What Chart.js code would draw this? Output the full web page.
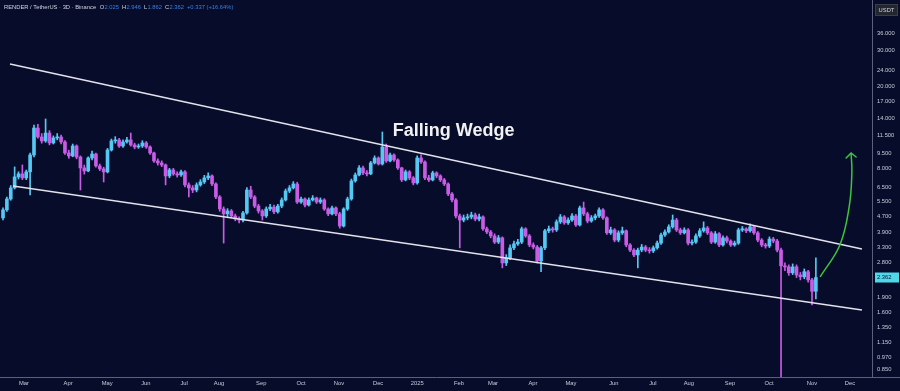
<!DOCTYPE html>
<html>
<head>
<meta charset="utf-8">
<title>RENDER / TetherUS 3D</title>
<script src="https://cdn.jsdelivr.net/npm/chart.js@4.4.1/dist/chart.umd.min.js"></script>
<style>
  html, body { margin: 0; padding: 0; background: #070c2b; }
  canvas { display: block; }
</style>
</head>
<body>
<canvas id="chart" width="900" height="391"></canvas>
<script>
// 3D candles, RENDER/USDT, Feb 2024 -> Nov 2025
const opens = [
  4.60, 5.03, 5.68, 6.43, 7.27, 7.52, 7.19, 7.69, 9.29, 12.56,
  11.36, 10.87, 11.87, 10.63, 11.24, 11.36, 10.75, 9.50, 9.19, 10.27,
  9.08, 8.04, 7.77, 8.98, 9.39, 8.22, 7.95, 7.69, 9.82, 10.87,
  10.99, 10.27, 10.75, 10.99, 10.39, 10.16, 10.27, 10.63, 10.16, 9.50,
  8.69, 8.50, 8.31, 7.35, 7.86, 7.52, 7.43, 7.69, 6.65, 6.43,
  6.28, 6.65, 6.87, 7.19, 7.35, 6.72, 5.81, 5.08, 4.81, 4.97,
  4.70, 4.54, 4.49, 4.86, 6.28, 5.81, 5.25, 4.97, 4.70, 5.08,
  5.19, 4.92, 5.25, 5.62, 6.21, 6.43, 6.72, 5.49, 5.68, 5.31,
  5.62, 5.74, 5.49, 5.62, 5.08, 4.81, 5.14, 4.81, 4.20, 5.08,
  5.68, 6.95, 7.43, 8.04, 7.60, 7.52, 8.50, 8.98, 8.40, 10.16,
  8.69, 9.29, 8.79, 8.04, 7.03, 7.69, 7.19, 6.80, 8.98, 8.59,
  7.19, 7.03, 7.60, 7.35, 7.03, 6.72, 6.01, 5.62, 4.70, 4.49,
  4.60, 4.65, 4.75, 4.54, 4.65, 4.07, 3.93, 3.76, 3.51, 3.68,
  2.78, 2.94, 3.29, 3.44, 3.51, 4.07, 3.76, 3.40, 3.32, 2.84,
  3.29, 3.98, 4.07, 4.02, 4.40, 4.65, 4.35, 4.49, 4.70, 4.25,
  5.14, 4.81, 4.44, 4.60, 4.70, 5.03, 4.60, 3.89, 4.02, 3.59,
  3.89, 3.98, 3.40, 3.21, 3.04, 3.21, 3.32, 3.21, 3.18, 3.29,
  3.47, 3.80, 3.93, 4.16, 4.49, 4.02, 3.89, 4.02, 3.47, 3.51,
  3.76, 3.98, 4.11, 3.89, 3.51, 3.85, 3.40, 3.68, 3.55, 3.40,
  3.47, 4.02, 4.07, 3.98, 4.16, 3.89, 3.59, 3.40, 3.36, 3.63,
  3.55, 3.21, 2.69, 2.66, 2.49, 2.66, 2.43, 2.38, 2.52, 2.30,
  2.025
];
const highs = [
  5.14, 5.80, 6.60, 8.13, 7.70, 8.31, 7.85, 9.50, 12.99, 13.10,
  11.80, 13.89, 12.20, 11.50, 11.80, 11.60, 10.90, 9.80, 10.50, 10.40,
  9.20, 8.30, 9.10, 9.70, 9.50, 8.40, 8.10, 10.00, 11.10, 11.40,
  11.20, 11.00, 11.30, 11.87, 10.60, 10.50, 10.90, 10.80, 10.30, 9.60,
  8.90, 8.70, 8.40, 8.00, 8.00, 7.70, 7.85, 7.80, 6.80, 6.60,
  6.80, 7.05, 7.40, 7.60, 7.45, 6.80, 5.90, 5.20, 5.10, 5.05,
  4.80, 4.65, 4.95, 6.45, 6.55, 5.90, 5.35, 5.05, 5.20, 5.35,
  5.30, 5.35, 5.75, 6.35, 6.60, 6.90, 6.85, 5.80, 5.75, 5.75,
  5.90, 5.80, 5.75, 5.70, 5.15, 5.25, 5.20, 4.90, 5.15, 5.80,
  7.10, 7.60, 8.25, 8.20, 7.80, 8.65, 9.20, 9.10, 12.01, 10.50,
  9.50, 9.40, 8.90, 8.10, 7.85, 7.80, 7.30, 9.20, 9.30, 8.70,
  7.40, 7.75, 7.70, 7.45, 7.15, 6.80, 6.10, 5.70, 4.80, 4.75,
  4.80, 4.90, 4.85, 4.80, 4.70, 4.15, 4.00, 3.85, 3.78, 3.72,
  3.05, 3.40, 3.55, 3.62, 4.15, 4.12, 3.82, 3.48, 3.38, 3.35,
  4.05, 4.20, 4.15, 4.50, 4.78, 4.72, 4.60, 4.82, 4.78, 5.25,
  5.49, 4.90, 4.72, 4.80, 5.15, 5.10, 4.65, 4.15, 4.08, 3.98,
  4.15, 4.02, 3.45, 3.26, 3.28, 3.42, 3.38, 3.30, 3.36, 3.55,
  3.88, 4.02, 4.26, 4.75, 4.58, 4.10, 4.12, 4.08, 3.60, 3.85,
  4.08, 4.40, 4.18, 3.95, 3.95, 3.90, 3.76, 3.75, 3.60, 3.55,
  4.10, 4.18, 4.12, 4.30, 4.22, 3.95, 3.65, 3.46, 3.72, 3.70,
  3.62, 3.28, 2.78, 2.72, 2.75, 2.72, 2.50, 2.60, 2.56, 2.34,
  2.946
];
const lows = [
  4.49, 4.95, 5.60, 6.35, 7.10, 7.05, 7.05, 5.94, 9.10, 11.20,
  10.60, 10.70, 10.40, 10.50, 11.00, 10.50, 9.35, 8.95, 9.10, 8.90,
  6.28, 7.50, 7.70, 8.80, 8.10, 7.80, 6.87, 7.60, 9.70, 10.60,
  10.10, 10.10, 10.60, 10.25, 9.95, 10.00, 10.10, 10.00, 9.35, 8.55,
  8.30, 8.15, 6.65, 7.20, 7.40, 7.25, 7.30, 6.50, 5.81, 6.10,
  6.15, 6.55, 6.75, 7.05, 6.60, 5.70, 4.95, 3.47, 4.65, 4.60,
  4.45, 4.35, 4.40, 4.80, 5.70, 5.15, 4.85, 4.49, 4.62, 4.98,
  4.82, 4.85, 5.15, 5.55, 6.10, 6.35, 5.40, 5.40, 5.20, 5.25,
  5.55, 5.40, 5.40, 5.00, 4.72, 4.75, 4.72, 4.10, 4.15, 5.00,
  5.60, 6.85, 7.35, 7.45, 7.35, 7.45, 8.40, 8.30, 8.30, 8.55,
  8.60, 8.65, 7.90, 6.90, 6.95, 7.05, 6.65, 6.70, 8.45, 7.05,
  6.90, 6.95, 7.20, 6.90, 6.60, 5.90, 5.50, 4.60, 3.29, 4.40,
  4.50, 4.55, 4.45, 4.45, 4.00, 3.85, 3.68, 3.45, 3.45, 2.63,
  2.70, 2.88, 3.22, 3.38, 3.45, 3.70, 3.33, 3.25, 2.78, 2.52,
  3.22, 3.90, 3.92, 3.95, 4.32, 4.28, 4.28, 4.42, 4.18, 4.20,
  4.72, 4.35, 4.38, 4.50, 4.62, 4.52, 3.82, 3.82, 3.52, 3.52,
  3.82, 3.33, 3.15, 2.98, 2.63, 3.15, 3.15, 3.10, 3.12, 3.24,
  3.42, 3.74, 3.88, 4.10, 3.95, 3.82, 3.84, 3.40, 3.40, 3.46,
  3.70, 3.92, 3.82, 3.45, 3.46, 3.33, 3.35, 3.48, 3.34, 3.35,
  3.42, 3.95, 3.90, 3.92, 3.82, 3.52, 3.33, 3.28, 3.30, 3.48,
  3.14, 0.60, 2.55, 2.42, 2.44, 2.36, 2.30, 2.33, 2.24, 1.74,
  1.862
];
const closes = [
  5.03, 5.68, 6.43, 7.27, 7.52, 7.19, 7.69, 9.29, 12.56, 11.36,
  10.87, 11.87, 10.63, 11.24, 11.36, 10.75, 9.50, 9.19, 10.27, 9.08,
  8.04, 7.77, 8.98, 9.39, 8.22, 7.95, 7.69, 9.82, 10.87, 10.99,
  10.27, 10.75, 10.99, 10.39, 10.16, 10.27, 10.63, 10.16, 9.50, 8.69,
  8.50, 8.31, 7.35, 7.86, 7.52, 7.43, 7.69, 6.65, 6.43, 6.28,
  6.65, 6.87, 7.19, 7.35, 6.72, 5.81, 5.08, 4.81, 4.97, 4.70,
  4.54, 4.49, 4.86, 6.28, 5.81, 5.25, 4.97, 4.70, 5.08, 5.19,
  4.92, 5.25, 5.62, 6.21, 6.43, 6.72, 5.49, 5.68, 5.31, 5.62,
  5.74, 5.49, 5.62, 5.08, 4.81, 5.14, 4.81, 4.20, 5.08, 5.68,
  6.95, 7.43, 8.04, 7.60, 7.52, 8.50, 8.98, 8.40, 10.16, 8.69,
  9.29, 8.79, 8.04, 7.03, 7.69, 7.19, 6.80, 8.98, 8.59, 7.19,
  7.03, 7.60, 7.35, 7.03, 6.72, 6.01, 5.62, 4.70, 4.49, 4.60,
  4.65, 4.75, 4.54, 4.65, 4.07, 3.93, 3.76, 3.51, 3.68, 2.78,
  2.94, 3.29, 3.44, 3.51, 4.07, 3.76, 3.40, 3.32, 2.84, 3.29,
  3.98, 4.07, 4.02, 4.40, 4.65, 4.35, 4.49, 4.70, 4.25, 5.14,
  4.81, 4.44, 4.60, 4.70, 5.03, 4.60, 3.89, 4.02, 3.59, 3.89,
  3.98, 3.40, 3.21, 3.04, 3.21, 3.32, 3.21, 3.18, 3.29, 3.47,
  3.80, 3.93, 4.16, 4.49, 4.02, 3.89, 4.02, 3.47, 3.51, 3.76,
  3.98, 4.11, 3.89, 3.51, 3.85, 3.40, 3.68, 3.55, 3.40, 3.47,
  4.02, 4.07, 3.98, 4.16, 3.89, 3.59, 3.40, 3.36, 3.63, 3.55,
  3.21, 2.69, 2.66, 2.49, 2.66, 2.43, 2.38, 2.52, 2.30, 2.025,
  2.362
];

// x axis: month labels and their position in candle units
const monthLabels = ['Mar', 'Apr', 'May', 'Jun', 'Jul', 'Aug', 'Sep', 'Oct', 'Nov', 'Dec', '2025',
                     'Feb', 'Mar', 'Apr', 'May', 'Jun', 'Jul', 'Aug', 'Sep', 'Oct', 'Nov', 'Dec'];
const monthPos = [5.4, 16.8, 26.9, 36.9, 46.8, 55.8, 66.7, 77.0, 86.8, 96.9, 107.0,
                  117.8, 126.6, 136.9, 146.7, 157.8, 167.9, 177.2, 187.8, 197.9, 209.0, 218.8];

// y axis (log) tick values
const priceTicks = [36, 30, 24, 20, 17, 14, 11.5, 9.5, 8, 6.5, 5.5, 4.7, 3.9, 3.3, 2.8,
                    1.9, 1.6, 1.35, 1.15, 0.97, 0.85];

// drawings (candle index, price)
const upperLine = [{ x: 1.8, y: 25.7 }, { x: 221.9, y: 3.25 }];
const lowerLine = [{ x: 2.6, y: 6.57 }, { x: 221.9, y: 1.643 }];
const arrowPath = [{ x: 211.1, y: 2.38 }, { x: 216.2, y: 3.40 }, { x: 218.6, y: 5.2 },
                   { x: 219.3, y: 7.6 }, { x: 219.1, y: 9.5 }];
const wedgeLabel = { x: 116.4, y: 12.2, text: 'Falling Wedge' };

const headerTitle = 'RENDER / TetherUS \u00b7 3D \u00b7 Binance';
const ohlcKeys = ['O', 'H', 'L', 'C'];
const ohlcValues = ['2.025', '2.946', '1.862', '2.362'];
const headerChange = '+0.337 (+16.64%)';
const lastPrice = 2.362;

/***************************************
 * Colours
 ***************************************/
const BG = '#070c2b';
const UP = '#55c8f4';
const DOWN = '#c95ce6';
const AXIS_LINE = '#5c6179';
const TEXT = '#c8ccd6';
const FONT = "'Liberation Sans', Arial, sans-serif";

Chart.defaults.font.family = FONT;

const candleColors = closes.map((c, i) => (c >= opens[i] ? UP : DOWN));
const wickData = closes.map((c, i) => ({ x: i, y: [lows[i], highs[i]] }));
const bodyData = closes.map((c, i) => ({ x: i, y: [opens[i], closes[i]] }));

// background fill
const bgPlugin = {
  id: 'bg',
  beforeDraw(chart) {
    const ctx = chart.ctx;
    ctx.save();
    ctx.fillStyle = BG;
    ctx.fillRect(0, 0, chart.width, chart.height);
    ctx.restore();
  }
};

// header, axis badges, arrow head and label
const overlayPlugin = {
  id: 'overlay',
  afterDraw(chart) {
    const ctx = chart.ctx;
    const xs = chart.scales.x, ys = chart.scales.y;
    const area = chart.chartArea;
    ctx.save();

    // bottom separator runs under the price axis too
    ctx.strokeStyle = AXIS_LINE;
    ctx.lineWidth = 1;
    ctx.beginPath();
    ctx.moveTo(area.right, Math.round(area.bottom) + 0.5);
    ctx.lineTo(chart.width, Math.round(area.bottom) + 0.5);
    ctx.stroke();

    // arrow head at the end of the green curve
    const tip = arrowPath[arrowPath.length - 1];
    const tx = xs.getPixelForValue(tip.x), ty = ys.getPixelForValue(tip.y);
    ctx.strokeStyle = '#3fc43f';
    ctx.lineWidth = 1.5;
    ctx.lineCap = 'round';
    ctx.beginPath();
    ctx.moveTo(tx - 5, ty + 5);
    ctx.lineTo(tx, ty);
    ctx.lineTo(tx + 5, ty + 4);
    ctx.stroke();

    // "Falling Wedge"
    ctx.fillStyle = '#f2f2f2';
    ctx.font = 'bold 18px ' + FONT;
    ctx.textAlign = 'center';
    ctx.textBaseline = 'middle';
    ctx.fillText(wedgeLabel.text, xs.getPixelForValue(wedgeLabel.x), ys.getPixelForValue(wedgeLabel.y));

    // header line
    ctx.font = '5.8px ' + FONT;
    ctx.textAlign = 'left';
    let hx = 4;
    const hy = 7;
    ctx.fillStyle = '#d1d4dc';
    ctx.fillText(headerTitle, hx, hy);
    hx += ctx.measureText(headerTitle).width + 3.5;
    ohlcKeys.forEach((k, i) => {
      ctx.fillStyle = '#d1d4dc';
      ctx.fillText(k, hx, hy);
      hx += ctx.measureText(k).width + 0.3;
      ctx.fillStyle = '#3a7fe0';
      ctx.fillText(ohlcValues[i], hx, hy);
      hx += ctx.measureText(ohlcValues[i]).width + 3;
    });
    ctx.fillText(headerChange, hx, hy);

    // USDT badge
    const right = area.right;
    ctx.fillStyle = '#23262f';
    ctx.strokeStyle = '#3a3e4a';
    ctx.lineWidth = 1;
    ctx.fillRect(right + 3.5, 4.5, 22, 11);
    ctx.strokeRect(right + 3.5, 4.5, 22, 11);
    ctx.fillStyle = '#d1d4dc';
    ctx.font = '5.8px ' + FONT;
    ctx.textAlign = 'center';
    ctx.fillText('USDT', right + 14.5, 10.2);

    // last price badge
    const py = ys.getPixelForValue(lastPrice);
    ctx.fillStyle = '#4fd8ea';
    ctx.fillRect(right + 3, py - 5, 24, 10);
    ctx.fillStyle = '#0a1230';
    ctx.textAlign = 'left';
    ctx.fillText(lastPrice.toFixed(3), right + 5, py + 0.3);

    ctx.restore();
  }
};

/***************************************
 * Chart
 ***************************************/
const ctx = document.getElementById('chart').getContext('2d');
const chart = new Chart(ctx, {
  type: 'bar',
  data: {
    datasets: [
      {
        label: 'wicks',
        data: wickData,
        backgroundColor: candleColors,
        barThickness: 1,
        grouped: false,
        borderWidth: 0,
        order: 3
      },
      {
        label: 'bodies',
        data: bodyData,
        backgroundColor: candleColors,
        barThickness: 3,
        minBarLength: 1,
        grouped: false,
        borderWidth: 0,
        order: 2
      },
      {
        type: 'line',
        label: 'upper',
        data: upperLine,
        borderColor: '#e2e2ea',
        borderWidth: 1.5,
        pointRadius: 0,
        order: 1
      },
      {
        type: 'line',
        label: 'lower',
        data: lowerLine,
        borderColor: '#e2e2ea',
        borderWidth: 1.5,
        pointRadius: 0,
        order: 1
      },
      {
        type: 'line',
        label: 'arrow',
        data: arrowPath,
        borderColor: '#3fc43f',
        borderWidth: 1.5,
        pointRadius: 0,
        tension: 0.4,
        order: 0
      }
    ]
  },
  options: {
    responsive: false,
    animation: false,
    layout: { padding: 0 },
    plugins: {
      legend: { display: false },
      tooltip: { enabled: false }
    },
    scales: {
      x: {
        type: 'linear',
        min: -0.78,
        max: 224.5,
        offset: false,
        afterBuildTicks: s => { s.ticks = monthPos.map(v => ({ value: v })); },
        afterFit: s => { s.height = 14; s.paddingLeft = 0; s.paddingRight = 0; },
        grid: { display: false, drawTicks: false },
        border: { display: true, color: AXIS_LINE, width: 1 },
        ticks: {
          color: TEXT,
          font: { size: 5.8 },
          padding: 3,
          maxRotation: 0,
          autoSkip: false,
          callback: (v, i) => monthLabels[i]
        }
      },
      y: {
        type: 'logarithmic',
        position: 'right',
        min: 0.777,
        max: 52.5,
        beginAtZero: false,
        afterBuildTicks: s => { s.ticks = priceTicks.map(v => ({ value: v })); },
        afterFit: s => { s.width = 28; s.paddingTop = 0; s.paddingBottom = 0; },
        grid: { display: false, drawTicks: false },
        border: { display: true, color: AXIS_LINE, width: 1 },
        ticks: {
          color: TEXT,
          font: { size: 5.8 },
          padding: 5,
          crossAlign: 'near',
          autoSkip: false,
          callback: v => Number(v).toFixed(3)
        }
      }
    }
  },
  plugins: [bgPlugin, overlayPlugin]
});
</script>
</body>
</html>
